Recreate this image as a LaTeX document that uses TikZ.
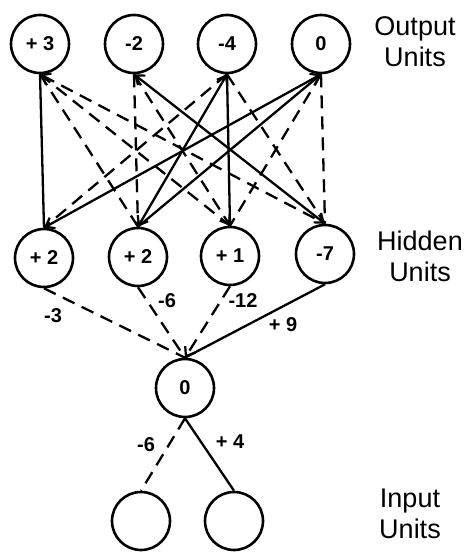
\documentclass[tikz,border=0pt]{standalone}
\usepackage{fontspec}
\setmainfont{Liberation Sans}
\usetikzlibrary{arrows.meta}
\tikzset{barb/.tip={Straight Barb[length=8pt,width=12pt,line width=2.2pt]}}
\begin{document}
\begin{tikzpicture}[x=1pt,y=-1pt,
  unit/.style={circle,draw,line width=2.6pt,minimum size=58pt,inner sep=0pt,font=\fontsize{20}{20}\selectfont\bfseries},
  poslink/.style={line width=2.3pt},
  neglink/.style={line width=2.3pt,dash pattern=on 13pt off 8pt},
  wlab/.style={font=\fontsize{20}{20}\selectfont\bfseries},
  layer/.style={font=\fontsize{27}{31}\selectfont,align=center}]
\useasboundingbox (0,0) rectangle (474,556);
% output units
\node[unit] (O1) at (40,44) {+ 3};
\node[unit] (O2) at (134,44) {-2};
\node[unit] (O3) at (227,44) {-4};
\node[unit] (O4) at (321,44) {0};
% hidden units
\node[unit] (H1) at (44,258) {+ 2};
\node[unit] (H2) at (138,257) {+ 2};
\node[unit] (H3) at (230,256) {+ 1};
\node[unit] (H4) at (325,254) {-7};
% middle unit
\node[unit] (M) at (185,388) {0};
% input units
\node[unit] (I1) at (141,521) {};
\node[unit] (I2) at (234,521) {};
% layer labels
\node[layer] (LO) at (415,42) {Output\\Units};
\node[layer] (LH) at (420,256) {Hidden\\Units};
\node[layer] (LI) at (410,514) {Input\\Units};
% output - hidden connections
\draw[poslink] (O1.south) -- (H1.north);
\draw[neglink] (O1.south) -- (H2.north);
\draw[neglink] (O1.south) -- (H3.north);
\draw[neglink,barb-] (O1.south) -- (H4.north);
\draw[neglink] (O2.south) -- (H2.north);
\draw[neglink,-barb] (O2.south) -- (H3.north);
\draw[poslink,barb-barb] (O2.south) -- (H4.north);
\draw[neglink] (O3.south) -- (H1.north);
\draw[poslink,barb-barb] (O3.south) -- (H2.north);
\draw[poslink] (O3.south) -- (H3.north);
\draw[neglink] (O3.south) -- (H4.north);
\draw[poslink,barb-barb] (O4.south) -- (H1.north);
\draw[poslink] (O4.south) -- (H2.north);
\draw[neglink] (O4.south) -- (H3.north);
\draw[neglink] (O4.south) -- (H4.north);
% hidden - middle connections
\draw[neglink] (H1.south) -- (M.north);
\draw[neglink] (H2.south) -- (M.north);
\draw[neglink,-barb] (H3.south) -- (M.north);
\draw[poslink] (H4.south) -- (M.north);
% middle - input connections
\draw[neglink] (M.south) -- (I1.north);
\draw[poslink] (M.south) -- (I2.north);
% weight labels
\node[wlab] (w1) at (53,316) {-3};
\node[wlab] (w2) at (167,301) {-6};
\node[wlab] (w3) at (243,301) {-12};
\node[wlab] (w4) at (283,325) {+ 9};
\node[wlab] (w5) at (146,445) {-6};
\node[wlab] (w6) at (230,442) {+ 4};
\end{tikzpicture}
\end{document}
